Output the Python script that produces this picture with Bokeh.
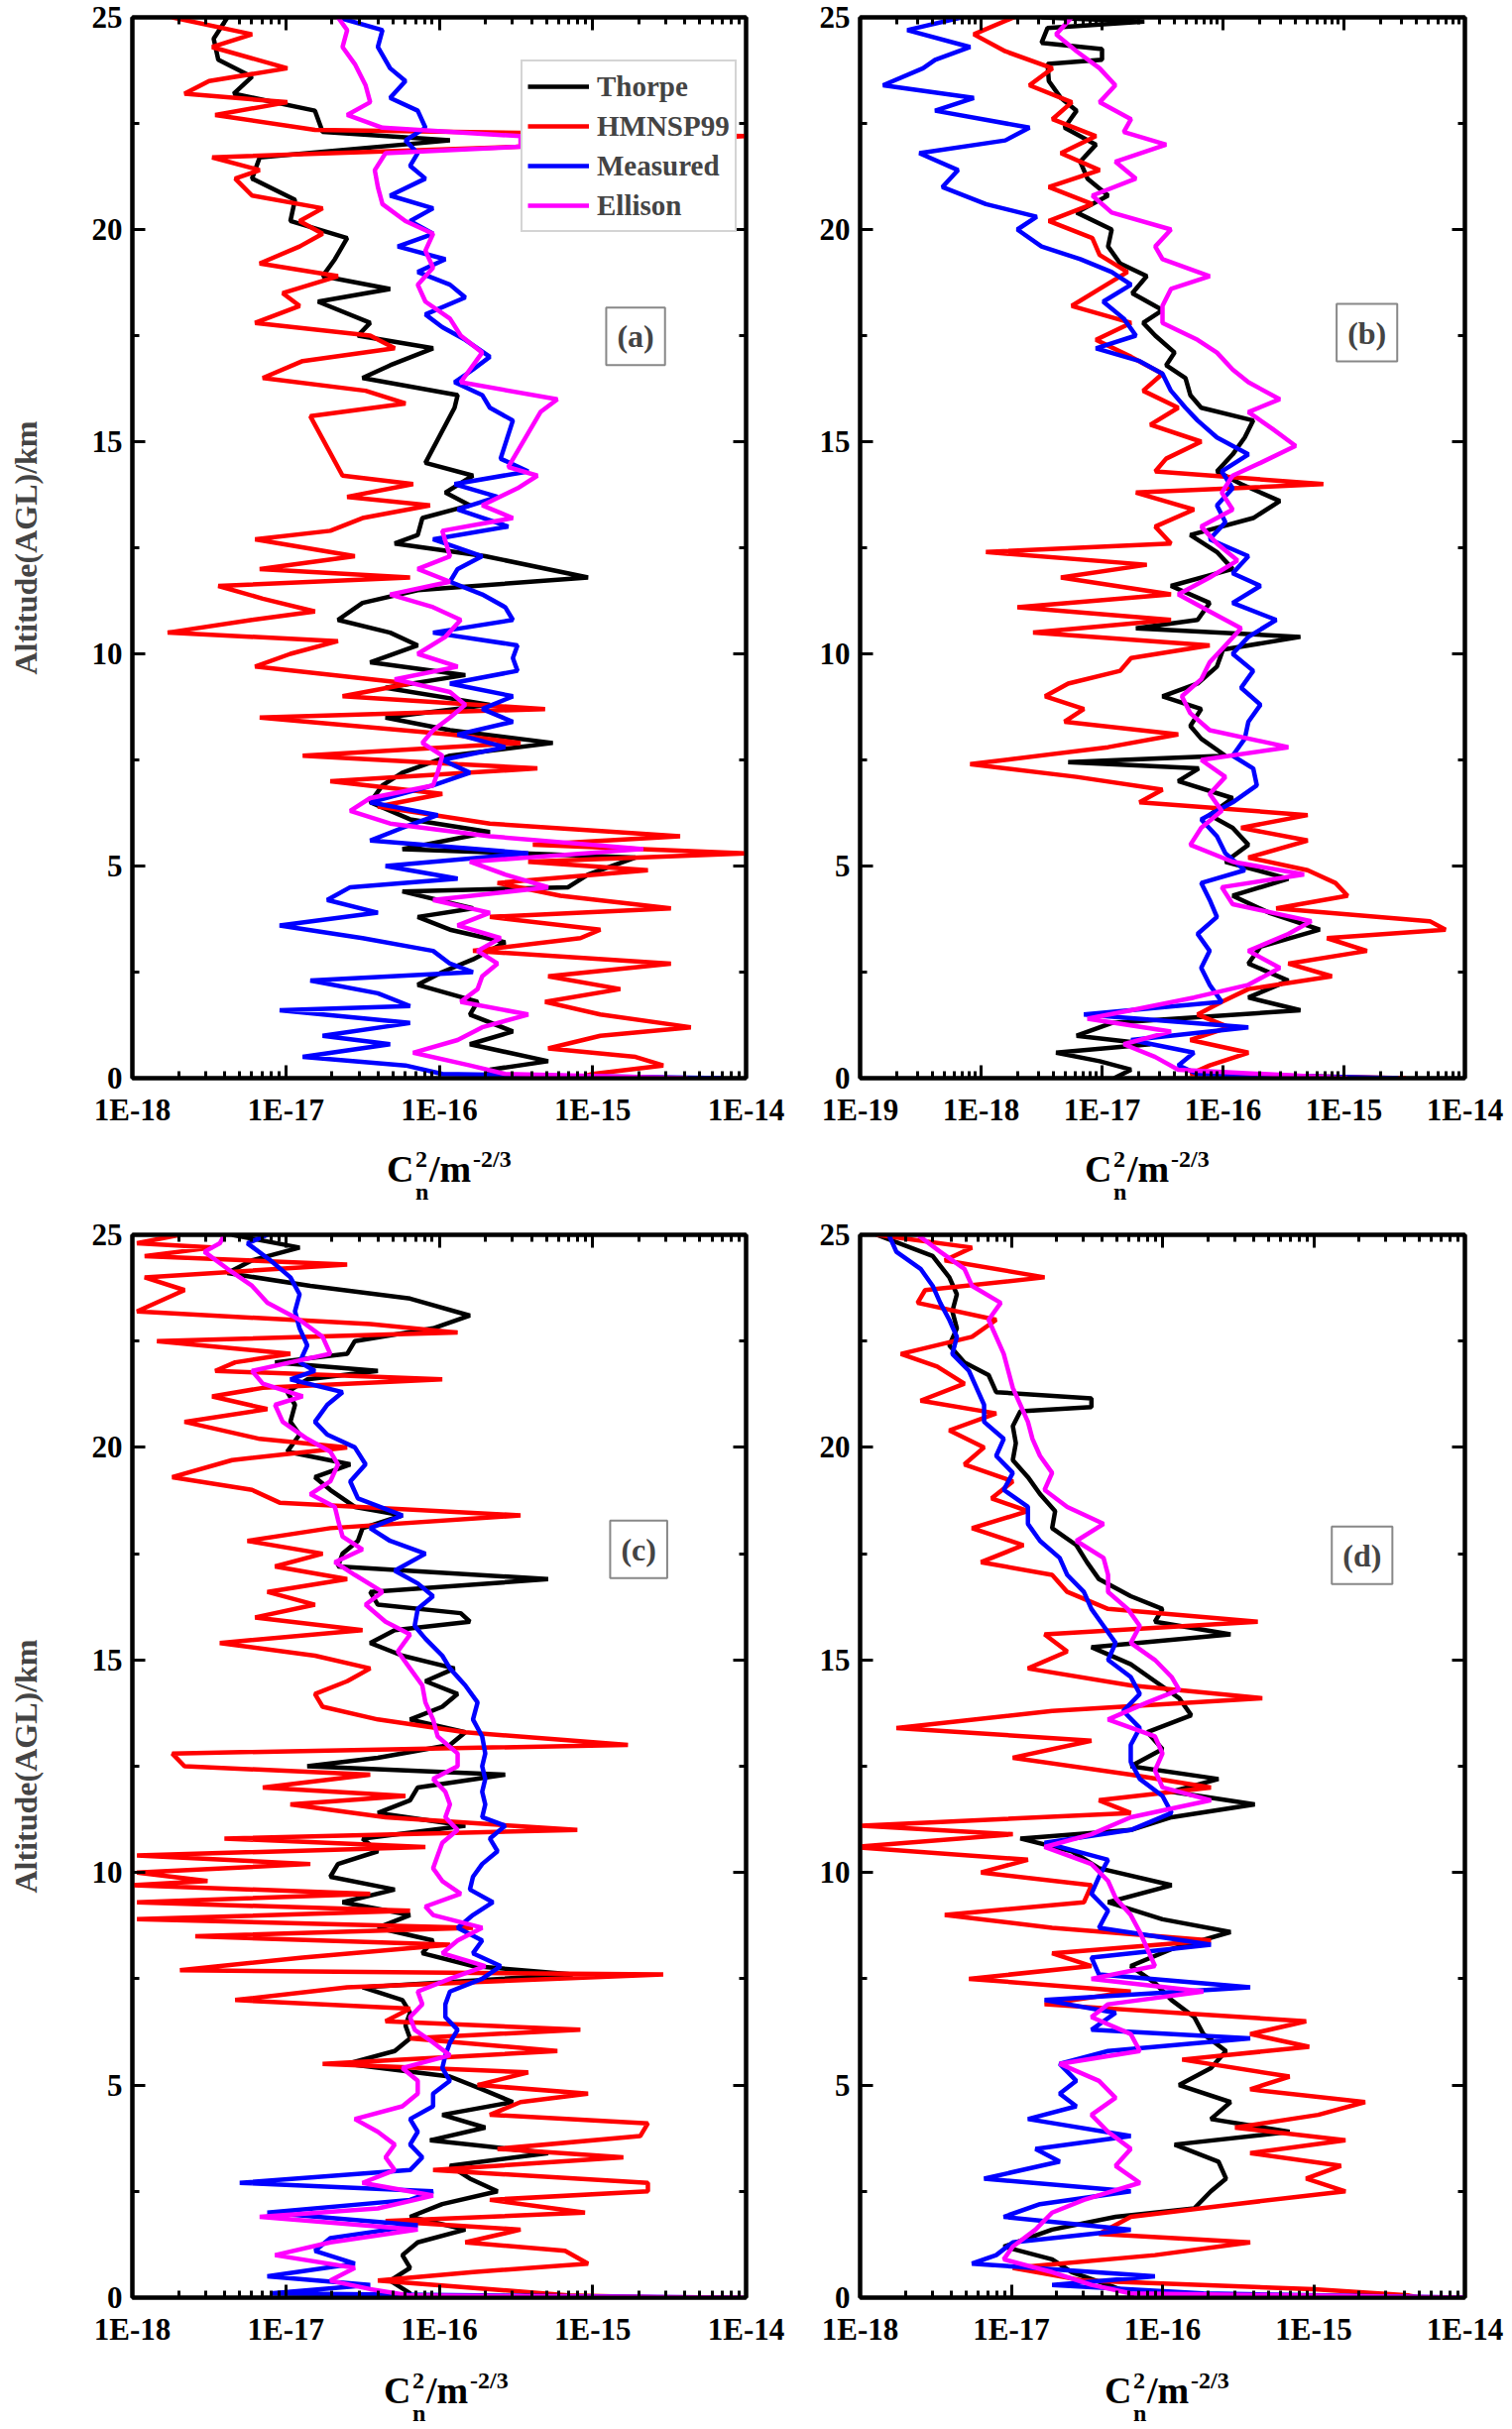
import numpy as np
from bokeh.plotting import figure
from bokeh.models import (Range1d, FixedTicker, LogAxis, LinearAxis, CustomJSTickFormatter,
                          Legend, LegendItem, Label, Div)
from bokeh.layouts import column, row
from bokeh.embed import file_html
from bokeh.resources import INLINE

# ---------------- data: (altitude km, log10 Cn2) ----------------
SERIES_NAMES = ["Thorpe", "HMNSP99", "Measured", "Ellison"]

a_thorpe = [(25.0,-17.38),(24.5,-17.47),(24.0,-17.44),(23.6,-17.22),(23.2,-17.34),(22.8,-16.81),(22.3,-16.76),(22.1,-15.93),(21.7,-17.17),(21.2,-17.22),(20.7,-16.94),(20.2,-16.97),(19.8,-16.60),(19.3,-16.68),(18.9,-16.76),(18.6,-16.32),(18.3,-16.79),(17.8,-16.45),(17.5,-16.53),(17.2,-16.04),(16.8,-16.32),(16.5,-16.50),(16.1,-15.88),(15.8,-15.90),(14.5,-16.09),(14.2,-15.78),(13.8,-15.96),(13.5,-15.80),(13.2,-16.11),(12.8,-16.14),(12.6,-16.29),(12.3,-15.70),(11.8,-15.03),(11.5,-16.14),(11.2,-16.50),(10.8,-16.66),(10.5,-16.32),(10.2,-16.14),(9.8,-16.45),(9.5,-15.83),(9.2,-16.35),(8.8,-15.67),(8.5,-16.35),(8.2,-15.93),(7.9,-15.26),(7.6,-15.93),(7.2,-16.24),(6.9,-16.37),(6.5,-16.45),(6.1,-16.19),(5.8,-15.67),(5.4,-16.24),(5.2,-14.72),(4.8,-15.03),(4.5,-15.16),(4.4,-16.24),(4.0,-15.78),(3.8,-16.14),(3.5,-15.93),(3.2,-15.57),(2.8,-15.78),(2.5,-15.98),(2.2,-16.14),(1.8,-15.75),(1.5,-15.80),(1.1,-15.52),(0.8,-15.80),(0.4,-15.29),(0.2,-15.67),(0.0,-15.70)]
a_hmnsp = [(25.0,-17.74),(24.6,-17.22),(24.3,-17.48),(23.8,-16.99),(23.5,-17.50),(23.2,-17.66),(23.0,-16.99),(22.7,-17.46),(22.35,-16.81),(22.2,-14.0),(21.95,-15.5),(21.7,-17.48),(21.4,-17.17),(21.2,-17.33),(20.8,-17.22),(20.5,-16.76),(20.2,-16.91),(19.9,-16.76),(19.6,-16.91),(19.2,-17.17),(18.9,-16.66),(18.5,-17.02),(18.2,-16.91),(17.8,-17.20),(17.5,-16.45),(17.2,-16.29),(16.9,-16.89),(16.5,-17.15),(16.2,-16.48),(15.9,-16.22),(15.6,-16.84),(14.2,-16.63),(14.0,-16.17),(13.7,-16.60),(13.5,-16.06),(13.2,-16.50),(12.9,-16.71),(12.7,-17.20),(12.3,-16.55),(12.0,-17.17),(11.8,-16.19),(11.6,-17.44),(11.3,-17.15),(11.0,-16.81),(10.8,-17.22),(10.5,-17.77),(10.3,-16.66),(10.0,-16.97),(9.7,-17.20),(9.3,-16.19),(9.0,-16.63),(8.7,-15.31),(8.5,-17.17),(8.1,-15.93),(7.9,-15.47),(7.6,-16.89),(7.4,-15.88),(7.3,-15.36),(7.0,-16.71),(6.7,-15.98),(6.4,-16.40),(6.0,-15.67),(5.7,-14.43),(5.5,-15.39),(5.3,-14.0),(5.1,-15.42),(4.9,-14.64),(4.6,-15.62),(4.3,-15.21),(4.0,-14.49),(3.8,-15.67),(3.5,-14.95),(3.3,-15.08),(3.0,-15.78),(2.7,-14.49),(2.4,-15.29),(2.1,-14.82),(1.8,-15.31),(1.5,-14.95),(1.2,-14.36),(1.0,-14.95),(0.7,-15.29),(0.5,-14.72),(0.3,-14.54),(0.1,-15.0),(0.0,-15.1)]
a_measured = [(25.0,-16.66),(24.7,-16.37),(24.3,-16.40),(23.8,-16.32),(23.5,-16.22),(23.1,-16.32),(22.8,-16.14),(22.4,-16.09),(22.1,-16.22),(21.8,-16.14),(21.5,-16.19),(21.2,-16.09),(20.8,-16.32),(20.5,-16.04),(20.2,-16.19),(19.9,-16.04),(19.6,-16.27),(19.3,-15.96),(19.0,-16.14),(18.7,-15.93),(18.4,-15.83),(18.0,-16.09),(17.7,-15.98),(17.4,-15.83),(17.0,-15.67),(16.7,-15.78),(16.4,-15.90),(16.1,-15.72),(15.8,-15.67),(15.5,-15.52),(14.6,-15.60),(14.3,-15.42),(14.0,-15.90),(13.7,-15.62),(13.4,-15.88),(13.0,-15.55),(12.7,-16.04),(12.3,-15.72),(12.0,-15.88),(11.7,-15.93),(11.4,-15.72),(11.1,-15.57),(10.8,-15.52),(10.5,-16.04),(10.2,-15.49),(9.9,-15.52),(9.6,-15.49),(9.3,-15.93),(9.0,-15.52),(8.7,-15.72),(8.4,-15.52),(8.1,-15.88),(7.8,-15.57),(7.5,-15.98),(7.2,-15.80),(6.9,-16.04),(6.5,-16.45),(6.2,-16.01),(5.9,-16.24),(5.6,-16.45),(5.3,-15.42),(5.0,-16.35),(4.7,-15.88),(4.5,-16.58),(4.2,-16.73),(3.9,-16.40),(3.6,-17.04),(3.3,-16.50),(3.0,-16.04),(2.7,-15.93),(2.5,-15.78),(2.3,-16.84),(2.0,-16.40),(1.7,-16.19),(1.6,-17.04),(1.3,-16.19),(1.0,-16.76),(0.8,-16.32),(0.5,-16.89),(0.3,-16.22),(0.1,-15.98),(0.0,-14.15)]
a_ellison = [(25.0,-16.66),(24.7,-16.60),(24.3,-16.63),(23.9,-16.55),(23.4,-16.48),(23.0,-16.45),(22.7,-16.60),(22.4,-16.37),(22.2,-15.47),(21.95,-15.47),(21.8,-16.35),(21.4,-16.42),(21.0,-16.40),(20.6,-16.37),(20.2,-16.22),(19.9,-16.04),(19.5,-16.09),(19.1,-16.04),(18.7,-16.14),(18.3,-16.09),(17.9,-15.93),(17.5,-15.86),(17.1,-15.72),(16.7,-15.80),(16.4,-15.86),(16.0,-15.23),(15.7,-15.34),(14.4,-15.55),(14.2,-15.36),(13.9,-15.49),(13.5,-15.72),(13.2,-15.52),(12.9,-15.98),(12.3,-15.93),(12.0,-16.14),(11.7,-15.93),(11.4,-16.32),(11.1,-16.04),(10.8,-15.86),(10.4,-15.96),(10.0,-16.14),(9.7,-15.88),(9.4,-16.29),(9.1,-15.93),(8.8,-15.83),(8.5,-15.93),(8.2,-16.04),(7.9,-16.11),(7.6,-15.98),(7.2,-16.01),(6.9,-16.04),(6.6,-16.45),(6.3,-16.58),(6.0,-16.32),(5.7,-15.67),(5.4,-14.67),(5.1,-15.80),(4.8,-15.57),(4.5,-15.29),(4.2,-16.04),(3.9,-15.67),(3.6,-15.88),(3.3,-15.60),(3.0,-15.75),(2.7,-15.62),(2.4,-15.72),(2.1,-15.75),(1.8,-15.86),(1.5,-15.42),(1.2,-15.72),(0.9,-15.88),(0.6,-16.17),(0.3,-15.80),(0.1,-15.57),(0.0,-14.38)]

b_thorpe = [(25.0,-17.5),(24.9,-16.65),(24.75,-17.45),(24.4,-17.5),(24.25,-17.0),(24.0,-17.0),(23.9,-17.45),(23.5,-17.44),(23.1,-17.34),(22.8,-17.21),(22.4,-17.31),(22.0,-17.05),(21.6,-17.18),(21.2,-17.12),(20.8,-16.95),(20.4,-17.21),(20.0,-16.92),(19.6,-16.95),(19.2,-16.85),(18.9,-16.63),(18.5,-16.75),(18.1,-16.50),(17.8,-16.66),(17.5,-16.56),(17.1,-16.40),(16.8,-16.47),(16.5,-16.31),(16.1,-16.27),(15.8,-16.18),(15.5,-15.75),(15.1,-15.82),(14.7,-15.92),(14.3,-16.05),(14.0,-15.85),(13.6,-15.53),(13.2,-15.75),(12.8,-16.27),(12.4,-16.05),(12.0,-15.92),(11.6,-16.43),(11.2,-16.11),(10.8,-16.21),(10.6,-16.72),(10.4,-15.36),(10.1,-16.0),(9.7,-16.05),(9.3,-16.21),(9.0,-16.50),(8.7,-16.18),(8.3,-16.27),(8.0,-16.18),(7.6,-15.98),(7.45,-17.28),(7.3,-16.2),(7.0,-16.37),(6.6,-15.92),(6.2,-16.11),(5.9,-15.92),(5.5,-15.79),(5.1,-15.98),(4.7,-15.46),(4.3,-15.92),(3.9,-15.62),(3.5,-15.20),(3.1,-15.69),(2.7,-15.79),(2.3,-15.46),(1.9,-15.79),(1.6,-15.36),(1.3,-16.92),(1.0,-17.21),(0.8,-16.60),(0.6,-17.38),(0.4,-17.02),(0.2,-16.76),(0.0,-16.9)]
b_hmnsp = [(25.0,-17.73),(24.6,-18.06),(24.2,-17.80),(23.8,-17.41),(23.4,-17.60),(23.0,-17.25),(22.6,-17.41),(22.2,-17.05),(21.8,-17.34),(21.4,-17.02),(21.0,-17.44),(20.6,-17.08),(20.2,-17.44),(19.8,-17.08),(19.4,-17.02),(19.0,-16.79),(18.6,-17.02),(18.2,-17.25),(17.8,-16.76),(17.4,-17.05),(17.0,-16.76),(16.6,-16.50),(16.2,-16.66),(15.8,-16.37),(15.4,-16.60),(15.0,-16.18),(14.6,-16.47),(14.3,-16.56),(14.0,-15.17),(13.8,-16.72),(13.4,-16.24),(13.0,-16.56),(12.6,-16.43),(12.4,-17.96),(12.1,-16.63),(11.8,-17.34),(11.4,-16.43),(11.1,-17.70),(10.8,-16.43),(10.5,-17.57),(10.2,-16.11),(9.9,-16.76),(9.6,-16.85),(9.3,-17.28),(9.0,-17.47),(8.7,-17.15),(8.4,-17.31),(8.1,-16.37),(7.8,-16.95),(7.4,-18.09),(7.1,-17.21),(6.8,-16.50),(6.5,-16.69),(6.2,-15.30),(5.9,-15.85),(5.6,-15.30),(5.2,-15.79),(4.9,-15.30),(4.6,-15.07),(4.3,-14.97),(4.0,-15.56),(3.7,-14.29),(3.5,-14.16),(3.3,-15.14),(3.0,-14.81),(2.7,-15.46),(2.4,-15.10),(2.1,-15.79),(1.8,-16.01),(1.5,-16.21),(1.2,-15.95),(0.9,-16.27),(0.6,-15.79),(0.3,-16.11),(0.1,-16.27),(0.0,-14.49)]
b_measured = [(25.0,-18.16),(24.7,-18.61),(24.3,-18.09),(24.0,-18.38),(23.8,-18.48),(23.4,-18.81),(23.1,-18.06),(22.8,-18.38),(22.4,-17.60),(22.1,-17.80),(21.8,-18.51),(21.4,-18.19),(21.0,-18.32),(20.6,-17.96),(20.3,-17.54),(20.0,-17.70),(19.6,-17.50),(19.3,-17.18),(19.0,-16.92),(18.7,-16.76),(18.3,-16.99),(17.9,-16.82),(17.5,-16.72),(17.2,-17.05),(16.9,-16.69),(16.6,-16.50),(16.2,-16.43),(15.8,-16.31),(15.5,-16.21),(15.1,-16.05),(14.7,-15.79),(14.3,-16.01),(13.9,-15.92),(13.5,-16.05),(13.1,-15.98),(12.7,-16.11),(12.3,-15.79),(11.9,-15.92),(11.6,-15.69),(11.2,-15.92),(10.8,-15.56),(10.4,-15.79),(10.0,-15.92),(9.6,-15.75),(9.2,-15.85),(8.8,-15.69),(8.4,-15.79),(8.0,-15.82),(7.6,-15.92),(7.3,-15.75),(6.9,-15.72),(6.5,-15.92),(6.1,-16.18),(5.7,-16.05),(5.3,-15.98),(4.9,-15.82),(4.6,-16.18),(4.2,-16.11),(3.8,-16.05),(3.4,-16.21),(3.0,-16.11),(2.6,-16.18),(2.2,-16.11),(1.8,-16.01),(1.5,-17.15),(1.2,-15.79),(0.9,-16.76),(0.6,-16.24),(0.3,-16.37),(0.1,-16.21),(0.0,-14.55)]
b_ellison = [(25.0,-17.25),(24.6,-17.38),(24.2,-17.21),(23.8,-17.02),(23.4,-16.89),(23.0,-17.02),(22.6,-16.76),(22.3,-16.82),(22.0,-16.47),(21.6,-16.89),(21.2,-16.72),(20.8,-17.08),(20.4,-16.92),(20.0,-16.43),(19.6,-16.56),(19.3,-16.50),(18.9,-16.11),(18.6,-16.43),(18.2,-16.50),(17.8,-16.50),(17.4,-16.21),(17.1,-16.05),(16.7,-15.92),(16.4,-15.79),(16.0,-15.53),(15.7,-15.79),(15.3,-15.59),(14.9,-15.40),(14.5,-15.69),(14.2,-15.92),(13.8,-16.01),(13.4,-15.92),(13.0,-16.18),(12.6,-16.05),(12.2,-15.88),(11.8,-16.11),(11.4,-16.37),(11.0,-16.11),(10.6,-15.85),(10.2,-15.98),(9.8,-16.11),(9.4,-16.18),(9.0,-16.34),(8.6,-16.27),(8.2,-16.11),(7.8,-15.46),(7.5,-16.18),(7.1,-15.98),(6.7,-16.11),(6.3,-16.01),(5.9,-16.18),(5.5,-16.27),(5.1,-15.92),(4.8,-15.33),(4.5,-16.01),(4.1,-15.92),(3.7,-15.27),(3.4,-15.46),(3.0,-15.79),(2.6,-15.53),(2.2,-15.79),(1.9,-16.24),(1.6,-16.76),(1.4,-17.12),(1.1,-16.43),(0.8,-16.82),(0.5,-16.56),(0.2,-16.37),(0.0,-14.97)]

c_thorpe = [(25.0,-17.35),(24.7,-16.91),(24.4,-17.22),(24.1,-17.38),(23.8,-16.84),(23.5,-16.19),(23.1,-15.80),(22.8,-16.04),(22.5,-16.55),(22.2,-16.60),(22.0,-17.07),(21.8,-16.40),(21.6,-16.86),(21.3,-16.99),(21.0,-16.94),(20.6,-16.97),(20.3,-16.91),(19.9,-16.99),(19.6,-16.58),(19.3,-16.81),(19.0,-16.71),(18.6,-16.55),(18.4,-16.24),(18.1,-16.50),(17.8,-16.53),(17.5,-16.63),(17.2,-16.66),(16.9,-15.29),(16.6,-16.45),(16.3,-16.40),(16.1,-15.86),(15.9,-15.80),(15.7,-16.29),(15.4,-16.45),(15.1,-16.24),(14.8,-15.90),(14.5,-16.09),(14.2,-15.88),(13.9,-15.98),(13.6,-16.19),(13.3,-15.83),(13.0,-15.93),(12.7,-16.40),(12.5,-16.86),(12.3,-15.57),(12.0,-16.14),(11.7,-16.19),(11.4,-16.40),(11.1,-15.83),(10.8,-16.50),(10.5,-16.40),(10.2,-16.66),(9.9,-16.71),(9.6,-16.29),(9.3,-16.63),(9.0,-16.19),(8.7,-16.40),(8.4,-16.04),(8.1,-16.11),(7.8,-15.78),(7.6,-15.13),(7.3,-16.50),(7.0,-16.24),(6.7,-16.19),(6.4,-16.22),(6.1,-16.19),(5.8,-16.29),(5.5,-16.60),(5.2,-15.93),(4.9,-15.72),(4.6,-15.52),(4.3,-15.98),(4.0,-15.70),(3.7,-16.06),(3.4,-15.29),(3.1,-15.93),(2.8,-15.80),(2.5,-15.62),(2.2,-15.98),(1.9,-16.19),(1.6,-15.83),(1.3,-16.14),(1.0,-16.24),(0.7,-16.19),(0.4,-16.32),(0.1,-16.19),(0.0,-16.2)]
c_hmnsp = [(25.0,-17.69),(24.8,-17.97),(24.7,-17.48),(24.5,-17.92),(24.3,-16.60),(24.0,-17.92),(23.7,-17.66),(23.2,-17.97),(22.9,-16.45),(22.7,-15.88),(22.5,-17.84),(22.2,-16.97),(22.0,-17.33),(21.8,-17.46),(21.6,-15.98),(21.4,-17.15),(21.2,-17.48),(20.9,-17.12),(20.6,-17.66),(20.2,-17.17),(20.0,-16.60),(19.7,-17.35),(19.3,-17.74),(19.0,-17.22),(18.7,-17.04),(18.4,-15.47),(18.1,-16.71),(17.8,-17.25),(17.5,-16.76),(17.2,-17.07),(16.9,-16.60),(16.6,-17.12),(16.3,-16.81),(16.0,-17.20),(15.7,-16.50),(15.4,-17.43),(15.1,-16.81),(14.8,-16.45),(14.5,-16.60),(14.2,-16.81),(13.9,-16.76),(13.6,-16.40),(13.3,-15.83),(13.0,-14.77),(12.8,-17.74),(12.5,-17.66),(12.3,-16.45),(12.0,-17.15),(11.8,-16.22),(11.6,-16.97),(11.3,-16.35),(11.0,-15.10),(10.8,-17.40),(10.6,-16.09),(10.4,-17.97),(10.2,-16.84),(10.0,-17.97),(9.8,-17.51),(9.7,-18.0),(9.5,-16.45),(9.3,-17.97),(9.1,-16.19),(8.9,-17.97),(8.7,-15.78),(8.5,-17.59),(8.3,-15.93),(8.0,-16.89),(7.7,-17.69),(7.6,-14.54),(7.3,-16.60),(7.0,-17.33),(6.8,-16.19),(6.5,-16.35),(6.3,-15.08),(6.1,-16.19),(5.8,-15.23),(5.5,-16.76),(5.3,-15.42),(5.0,-15.75),(4.8,-15.03),(4.6,-15.47),(4.3,-15.67),(4.1,-14.64),(3.8,-14.69),(3.5,-15.62),(3.3,-14.80),(3.0,-16.04),(2.7,-14.64),(2.5,-14.64),(2.3,-15.67),(2.0,-15.05),(1.8,-16.35),(1.6,-15.47),(1.3,-15.83),(1.1,-15.18),(0.8,-15.03),(0.6,-15.78),(0.4,-16.40),(0.2,-15.67),(0.05,-15.16),(0.0,-14.5)]
c_measured = [(25.0,-17.12),(24.8,-17.25),(24.4,-17.10),(24.0,-16.97),(23.6,-16.91),(23.2,-16.94),(22.8,-16.91),(22.4,-16.86),(22.0,-16.91),(21.8,-16.81),(21.6,-16.97),(21.3,-16.63),(21.0,-16.73),(20.6,-16.81),(20.3,-16.73),(20.0,-16.55),(19.6,-16.48),(19.2,-16.58),(18.8,-16.53),(18.4,-16.24),(18.1,-16.45),(17.8,-16.32),(17.5,-16.09),(17.1,-16.29),(16.8,-16.14),(16.5,-16.04),(16.2,-16.14),(15.8,-16.16),(15.5,-16.09),(15.1,-15.98),(14.8,-15.93),(14.4,-15.83),(14.0,-15.75),(13.6,-15.78),(13.2,-15.72),(12.8,-15.70),(12.5,-15.72),(12.2,-15.70),(11.9,-15.72),(11.6,-15.70),(11.3,-15.72),(11.1,-15.57),(10.8,-15.67),(10.5,-15.62),(10.2,-15.72),(9.9,-15.78),(9.6,-15.80),(9.3,-15.65),(9.0,-15.78),(8.7,-15.88),(8.4,-15.72),(8.1,-15.78),(7.8,-15.60),(7.5,-15.72),(7.2,-15.93),(6.9,-15.96),(6.6,-15.96),(6.3,-15.88),(6.0,-15.93),(5.7,-15.96),(5.4,-15.98),(5.1,-15.93),(4.8,-16.04),(4.5,-16.04),(4.2,-16.19),(3.9,-16.14),(3.6,-16.19),(3.3,-16.11),(3.0,-16.19),(2.7,-17.30),(2.5,-16.04),(2.3,-16.19),(2.0,-17.12),(1.7,-16.14),(1.4,-16.71),(1.1,-16.81),(0.8,-16.55),(0.5,-17.12),(0.3,-16.45),(0.1,-17.10),(0.0,-14.12)]
c_ellison = [(25.0,-17.40),(24.8,-17.43),(24.6,-17.53),(24.2,-17.38),(23.8,-17.22),(23.4,-17.12),(23.0,-16.91),(22.6,-16.76),(22.2,-16.71),(22.0,-16.97),(21.8,-17.22),(21.5,-17.15),(21.2,-16.89),(21.0,-17.07),(20.6,-17.02),(20.2,-16.86),(19.9,-16.71),(19.6,-16.66),(19.2,-16.71),(18.9,-16.84),(18.6,-16.68),(18.3,-16.66),(17.9,-16.63),(17.6,-16.50),(17.3,-16.68),(17.0,-16.55),(16.6,-16.37),(16.3,-16.48),(15.9,-16.35),(15.6,-16.19),(15.2,-16.27),(14.8,-16.19),(14.4,-16.11),(14.0,-16.09),(13.6,-16.04),(13.2,-16.01),(12.8,-15.88),(12.5,-15.88),(12.2,-16.04),(11.9,-15.96),(11.6,-15.93),(11.3,-15.96),(11.0,-15.88),(10.7,-15.98),(10.4,-16.01),(10.1,-16.04),(9.8,-15.98),(9.5,-15.86),(9.2,-16.09),(9.0,-16.04),(8.7,-15.72),(8.4,-15.88),(8.1,-15.98),(7.8,-15.70),(7.5,-15.93),(7.2,-16.14),(6.9,-16.11),(6.6,-16.19),(6.3,-16.16),(6.0,-16.04),(5.7,-15.93),(5.4,-16.24),(5.1,-16.14),(4.8,-16.14),(4.5,-16.24),(4.2,-16.55),(3.9,-16.40),(3.6,-16.29),(3.3,-16.35),(3.0,-16.29),(2.7,-16.50),(2.4,-16.04),(2.1,-16.40),(1.9,-17.17),(1.6,-16.14),(1.3,-16.71),(1.0,-17.07),(0.7,-16.55),(0.4,-16.71),(0.2,-16.45),(0.05,-16.19),(0.0,-14.02)]

d_thorpe = [(25.0,-17.89),(24.5,-17.52),(24.0,-17.41),(23.6,-17.36),(23.2,-17.39),(22.8,-17.36),(22.4,-17.41),(22.0,-17.31),(21.7,-17.15),(21.3,-17.10),(21.15,-16.47),(20.95,-16.47),(20.85,-16.94),(20.5,-16.99),(20.1,-16.97),(19.7,-16.99),(19.3,-16.89),(18.9,-16.81),(18.5,-16.71),(18.1,-16.73),(17.7,-16.57),(17.3,-16.50),(16.9,-16.42),(16.5,-16.21),(16.2,-16.00),(15.9,-16.05),(15.6,-15.55),(15.3,-16.47),(14.9,-16.21),(14.5,-16.05),(14.1,-15.89),(13.7,-15.81),(13.3,-16.10),(12.9,-16.00),(12.5,-16.21),(12.2,-15.63),(11.9,-15.94),(11.6,-15.39),(11.3,-15.94),(11.0,-16.21),(10.8,-16.94),(10.5,-16.60),(10.1,-16.42),(9.7,-15.94),(9.3,-16.36),(8.9,-16.00),(8.6,-15.55),(8.2,-15.94),(7.8,-16.21),(7.4,-16.05),(7.0,-15.94),(6.6,-15.79),(6.2,-15.73),(5.8,-15.58),(5.4,-15.68),(5.0,-15.89),(4.6,-15.55),(4.2,-15.68),(3.9,-15.16),(3.6,-15.92),(3.2,-15.63),(2.8,-15.58),(2.5,-15.68),(2.1,-15.79),(1.9,-16.31),(1.6,-16.73),(1.2,-17.05),(0.9,-16.73),(0.6,-16.60),(0.3,-16.36),(0.1,-16.21),(0.0,-16.2)]
d_hmnsp = [(25.0,-17.89),(24.7,-17.26),(24.4,-17.44),(24.0,-16.78),(23.7,-17.57),(23.4,-17.62),(23.0,-17.10),(22.6,-17.26),(22.2,-17.73),(21.9,-17.49),(21.5,-17.31),(21.1,-17.60),(20.8,-17.10),(20.4,-17.41),(20.0,-17.18),(19.6,-17.31),(19.2,-16.99),(18.8,-17.13),(18.5,-16.89),(18.1,-17.26),(17.7,-16.92),(17.3,-17.20),(17.0,-16.73),(16.6,-16.63),(16.2,-16.36),(15.9,-15.37),(15.6,-16.78),(15.2,-16.63),(14.8,-16.89),(14.4,-16.21),(14.1,-15.34),(13.8,-16.73),(13.4,-17.76),(13.1,-16.47),(12.7,-16.99),(12.3,-16.21),(12.0,-15.68),(11.7,-16.42),(11.4,-16.21),(11.1,-17.99),(10.9,-16.99),(10.6,-18.04),(10.3,-16.89),(10.0,-17.20),(9.7,-16.47),(9.3,-16.52),(9.0,-17.44),(8.7,-16.73),(8.4,-15.68),(8.1,-16.73),(7.8,-16.47),(7.5,-17.28),(7.2,-16.21),(6.9,-16.78),(6.5,-15.05),(6.2,-15.42),(5.9,-15.03),(5.6,-15.87),(5.2,-15.16),(4.9,-15.42),(4.6,-14.66),(4.3,-14.97),(4.0,-15.52),(3.7,-14.79),(3.4,-15.42),(3.1,-14.82),(2.8,-15.05),(2.5,-14.79),(2.2,-15.52),(1.9,-16.21),(1.5,-16.42),(1.3,-15.42),(1.0,-16.05),(0.7,-16.99),(0.4,-16.52),(0.2,-15.00),(0.05,-14.37),(0.0,-14.3)]
d_measured = [(25.0,-17.81),(24.6,-17.76),(24.2,-17.60),(23.8,-17.52),(23.4,-17.47),(23.0,-17.41),(22.6,-17.36),(22.2,-17.39),(21.8,-17.28),(21.4,-17.23),(21.0,-17.18),(20.6,-17.18),(20.2,-17.05),(19.8,-17.10),(19.4,-16.99),(19.0,-17.05),(18.6,-16.89),(18.2,-16.89),(17.8,-16.81),(17.4,-16.68),(17.0,-16.63),(16.6,-16.52),(16.2,-16.47),(15.8,-16.39),(15.4,-16.31),(15.0,-16.36),(14.6,-16.21),(14.2,-16.15),(13.8,-16.26),(13.4,-16.15),(13.0,-16.21),(12.6,-16.21),(12.2,-16.15),(11.8,-16.00),(11.4,-15.94),(11.0,-16.21),(10.7,-16.78),(10.3,-16.36),(9.9,-16.42),(9.5,-16.47),(9.1,-16.36),(8.7,-16.42),(8.3,-15.68),(8.0,-16.47),(7.6,-16.42),(7.3,-15.42),(7.0,-16.78),(6.7,-16.31),(6.3,-16.47),(6.1,-15.42),(5.8,-16.36),(5.5,-16.68),(5.1,-16.57),(4.8,-16.68),(4.5,-16.57),(4.2,-16.89),(3.8,-16.21),(3.5,-16.84),(3.2,-16.68),(2.8,-17.18),(2.5,-16.21),(2.2,-16.81),(1.9,-17.05),(1.6,-16.21),(1.3,-16.99),(1.0,-17.10),(0.8,-17.26),(0.5,-16.05),(0.3,-16.73),(0.1,-15.73),(0.0,-14.0)]
d_ellison = [(25.0,-17.62),(24.6,-17.47),(24.2,-17.31),(23.8,-17.26),(23.4,-17.07),(23.0,-17.15),(22.6,-17.10),(22.2,-17.05),(21.8,-17.02),(21.4,-16.99),(21.0,-16.94),(20.6,-16.89),(20.2,-16.86),(19.8,-16.81),(19.4,-16.73),(19.0,-16.78),(18.6,-16.63),(18.2,-16.39),(17.8,-16.57),(17.4,-16.39),(17.0,-16.36),(16.6,-16.36),(16.2,-16.23),(15.8,-16.15),(15.4,-16.21),(15.0,-16.05),(14.6,-15.94),(14.3,-15.89),(14.0,-16.10),(13.6,-16.36),(13.2,-16.05),(12.8,-16.00),(12.4,-16.05),(12.0,-16.00),(11.7,-15.68),(11.3,-16.21),(10.9,-16.47),(10.6,-16.78),(10.2,-16.47),(9.8,-16.36),(9.4,-16.31),(9.0,-16.21),(8.6,-16.15),(8.2,-16.10),(7.8,-16.05),(7.5,-16.47),(7.2,-15.73),(6.9,-16.36),(6.6,-16.47),(6.2,-16.21),(5.8,-16.15),(5.5,-16.68),(5.1,-16.42),(4.7,-16.31),(4.3,-16.47),(3.9,-16.36),(3.5,-16.21),(3.1,-16.31),(2.7,-16.15),(2.3,-16.52),(2.0,-16.73),(1.6,-16.84),(1.2,-16.99),(0.9,-17.05),(0.6,-16.73),(0.3,-16.47),(0.1,-16.21),(0.0,-14.0)]

Y_MAJOR = [0, 5, 10, 15, 20, 25]
Y_MINOR = [2.5, 7.5, 12.5, 17.5, 22.5]

# ---------------- styling ----------------
COLORS = ["#000000", "#FF0000", "#0000FF", "#FF00FF"]
FONT = "Liberation Serif"


def style_axis(ax, show_labels=True):
    ax.axis_line_width = 4
    ax.axis_line_color = "black"
    ax.major_tick_line_width = 3
    ax.minor_tick_line_width = 3
    ax.major_tick_in = 13
    ax.major_tick_out = 0
    ax.minor_tick_in = 7
    ax.minor_tick_out = 0
    ax.major_label_text_font = FONT
    ax.major_label_text_font_style = "bold"
    ax.major_label_text_font_size = "31px"
    ax.major_label_text_color = "black"
    ax.major_label_standoff = 10
    if not show_labels:
        ax.formatter = CustomJSTickFormatter(code="return '';")


def make_panel(series, decades, frame_w, frame_h, borders, ylabel, tag, tag_pos, legend_loc=None):
    lo, hi = decades
    bl, br, bt, bb = borders
    p = figure(x_axis_type="log", frame_width=frame_w, frame_height=frame_h,
               x_range=Range1d(10.0 ** lo, 10.0 ** hi), y_range=Range1d(0, 25),
               output_backend="svg", toolbar_location=None,
               min_border_left=bl, min_border_right=br, min_border_top=bt, min_border_bottom=bb)
    p.xgrid.visible = False
    p.ygrid.visible = False
    p.outline_line_color = "black"
    p.outline_line_width = 4
    p.background_fill_color = "white"
    p.border_fill_color = "white"

    majors = [10.0 ** e for e in range(lo, hi + 1)]
    minors = [k * 10.0 ** e for e in range(lo, hi) for k in range(2, 10)]
    xt = FixedTicker(ticks=majors, minor_ticks=minors)
    yt = FixedTicker(ticks=Y_MAJOR, minor_ticks=Y_MINOR)

    xa = p.xaxis[0]
    xa.ticker = xt
    xa.formatter = CustomJSTickFormatter(code="return '1E' + Math.round(Math.log10(tick));")
    style_axis(xa)
    xa.major_label_standoff = 14

    ya = p.yaxis[0]
    ya.ticker = yt
    style_axis(ya)
    if ylabel:
        ya.axis_label = "Altitude(AGL)/km"
        ya.axis_label_text_font = FONT
        ya.axis_label_text_font_style = "bold"
        ya.axis_label_text_font_size = "32px"
        ya.axis_label_standoff = 46

    top = LogAxis(ticker=xt)
    style_axis(top, show_labels=False)
    p.add_layout(top, "above")
    right = LinearAxis(ticker=yt)
    style_axis(right, show_labels=False)
    p.add_layout(right, "right")

    renderers = []
    for pts, color in zip(series, COLORS):
        alt = [a for a, _ in pts]
        cn2 = [10.0 ** v for _, v in pts]
        r = p.line(cn2, alt, line_color=color, line_width=4.5)
        renderers.append(r)

    if legend_loc is not None:
        items = [LegendItem(label=n, renderers=[r]) for n, r in zip(SERIES_NAMES, renderers)]
        leg = Legend(items=items, location=legend_loc,
                     label_text_font=FONT, label_text_font_style="bold",
                     label_text_font_size="29px", label_height=40, label_standoff=8,
                     glyph_width=62, glyph_height=20, spacing=0, padding=5, margin=0,
                     border_line_color="#aaaaaa", border_line_width=2,
                     background_fill_color="white", background_fill_alpha=1.0)
        p.add_layout(leg, "center")

    p.add_layout(Label(x=10.0 ** tag_pos[0], y=tag_pos[1], text=tag, text_font=FONT,
                       text_font_style="bold", text_font_size="32px", text_align="center",
                       text_baseline="middle", border_line_color="#888888", border_line_width=2,
                       background_fill_color="white", padding=11))
    return p


def title_div(width, height, c_left, top_main):
    # x-axis title  C_n^2 / m^-2/3  (real HTML text with stacked sub/superscript)
    pieces = [("C", c_left, top_main, 38),
              ("2", c_left + 29, top_main - 3, 24),
              ("n", c_left + 29, top_main + 30, 24),
              ("/m", c_left + 43, top_main, 38),
              ("-2/3", c_left + 87, top_main - 3, 24)]
    spans = "".join(
        f'<span style="position:absolute;left:{l}px;top:{t}px;font-size:{fs}px;'
        f'line-height:1;white-space:nowrap">{s}</span>' for s, l, t, fs in pieces)
    html = (f'<div style="position:relative;width:{width}px;height:{height}px;'
            f"font-family:'Liberation Serif',serif;font-weight:bold;color:#000\">{spans}</div>")
    return Div(text=html, width=width, height=height, margin=0)


pa = make_panel([a_thorpe, a_hmnsp, a_measured, a_ellison], (-18, -14), 619, 1070,
                (133, 48, 17, 58), True, "(a)", (-14.72, 17.48), legend_loc=(392, 853))
pb = make_panel([b_thorpe, b_hmnsp, b_measured, b_ellison], (-19, -14), 610, 1070,
                (67, 48, 17, 58), False, "(b)", (-14.81, 17.57))
pc = make_panel([c_thorpe, c_hmnsp, c_measured, c_ellison], (-18, -14), 619, 1072,
                (133, 48, 17, 58), True, "(c)", (-14.70, 17.6))
pd = make_panel([d_thorpe, d_hmnsp, d_measured, d_ellison], (-18, -14), 610, 1072,
                (67, 48, 17, 58), False, "(d)", (-14.68, 17.46))

ta = title_div(800, 83, 390, 15)
tb = title_div(725, 83, 294, 15)
tc = title_div(800, 75, 387, 17)
td = title_div(725, 75, 314, 17)

layout = column(row(column(pa, ta), column(pb, tb)), row(column(pc, tc), column(pd, td)))
open("out.html", "w").write(file_html(layout, INLINE))
